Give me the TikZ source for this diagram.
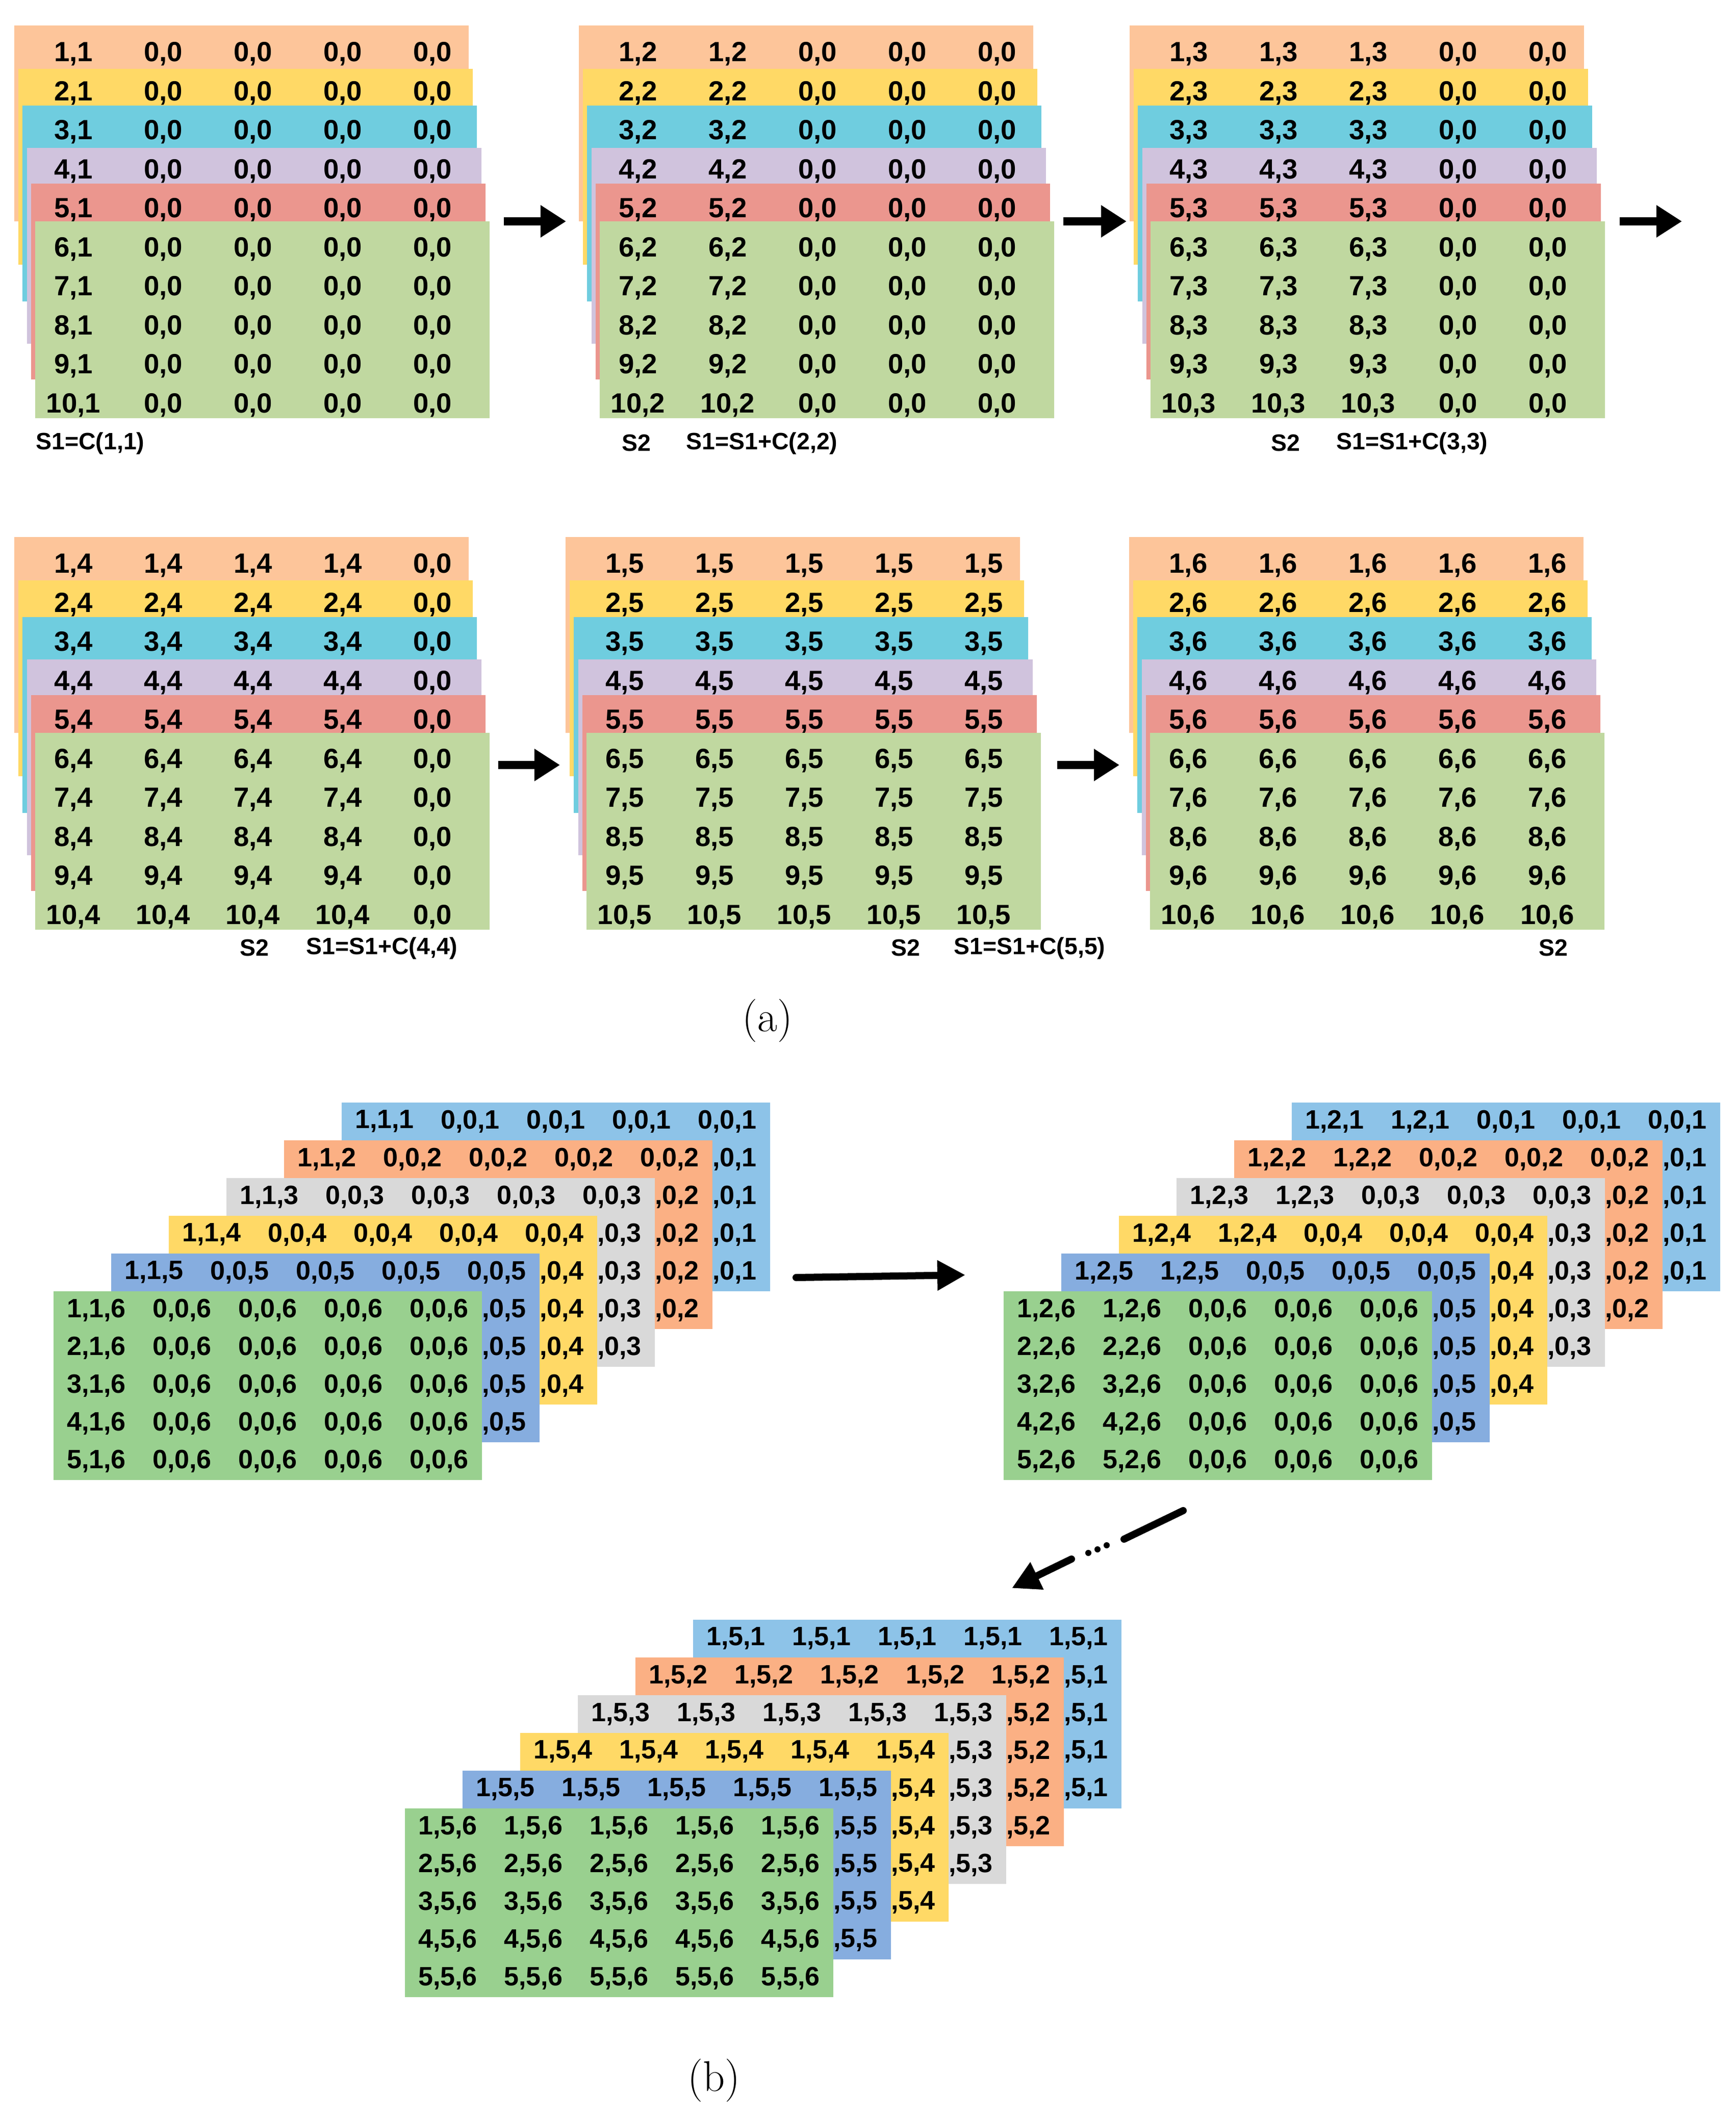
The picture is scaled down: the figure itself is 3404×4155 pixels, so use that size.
\documentclass[tikz,border=0pt]{standalone}
\usepackage{fontspec}
\newfontfamily\cellfont{Liberation Sans}
\usetikzlibrary{arrows.meta}
\definecolor{A1}{HTML}{FDC59A}
\definecolor{A2}{HTML}{FFD966}
\definecolor{A3}{HTML}{6FCDDF}
\definecolor{A4}{HTML}{D0C3DD}
\definecolor{A5}{HTML}{EB968E}
\definecolor{A6}{HTML}{C0D8A0}
\definecolor{B1}{HTML}{8DC3E8}
\definecolor{B2}{HTML}{FBB084}
\definecolor{B3}{HTML}{D9D9D9}
\definecolor{B4}{HTML}{FFD966}
\definecolor{B5}{HTML}{86ADDF}
\definecolor{B6}{HTML}{99D08F}
\tikzset{
 acell/.style={font=\cellfont\bfseries\fontsize{15.5}{16}\selectfont, inner sep=0pt, anchor=center},
 bcell/.style={font=\cellfont\bfseries\fontsize{14.8}{16}\selectfont, inner sep=0pt, anchor=center},
 lab/.style={font=\cellfont\bfseries\fontsize{13.2}{14}\selectfont, inner sep=0pt, anchor=center},
 captext/.style={font=\fontsize{24}{26}\selectfont, inner sep=0pt},
 bigarrow/.style={line width=0.16cm, -{Triangle[length=0.5cm,width=0.6cm]}},
 barrow/.style={line width=0.14cm, line cap=round, -{Triangle[length=0.55cm,width=0.56cm]}},
}
\newcommand\astack[4]{%
 \foreach \k/\o/\col in {0/0/A1,1/85/A2,2/157/A3,3/240/A4,4/310/A5}{
   \fill[\col] ({#1+8.2*\k},{#2+\o}) rectangle ++(891,384);
   \pgfmathtruncatemacro\rr{\k+1}
   \foreach \c in {1,...,5}{
     \node[acell] (#4-\rr-\c) at ({#1+116+176*(\c-1)},{#2+56+76.5*\k}) {\ifnum\c>#3 0,0\else\rr,#3\fi};
   }
 }
 \fill[A6] ({#1+41},{#2+384}) rectangle ++(891,386);
 \foreach \k in {5,...,9}{
   \pgfmathtruncatemacro\rr{\k+1}
   \foreach \c in {1,...,5}{
     \node[acell] (#4-\rr-\c) at ({#1+116+176*(\c-1)},{#2+56+76.5*\k}) {\ifnum\c>#3 0,0\else\rr,#3\fi};
   }
 }
}
\newcommand\bstack[4]{%
 \foreach \k/\col in {0/B1,1/B2,2/B3,3/B4,4/B5,5/B6}{
  \fill[\col] ({#1-113*\k},{#2+74*\k}) rectangle ++(840,370);
  \pgfmathtruncatemacro\kk{\k+1}
  \foreach \rw in {1,...,5}{\foreach \c in {1,...,5}{
     \node[bcell] (#4-\kk-\rw-\c) at ({#1-113*\k+84+168*(\c-1)},{#2+74*\k+37+74*(\rw-1)}) {\ifnum\c>#3 0,0,\kk\else\rw,#3,\kk\fi};
  }}
 }
}
\begin{document}
\begin{tikzpicture}[x=0.01cm,y=-0.01cm]
\useasboundingbox (0,0) rectangle (3404,4155);
% (a) row 1
\astack{28}{50}{1}{s1}
\astack{1135}{50}{2}{s2}
\astack{2215}{50}{3}{s3}
% (a) row 2
\astack{28}{1053}{4}{s4}
\astack{1109}{1053}{5}{s5}
\astack{2214}{1053}{6}{s6}
% arrows (a)
\coordinate (a1s) at (988,434); \coordinate (a1e) at (1110,434);
\coordinate (a2s) at (2085,434); \coordinate (a2e) at (2209,434);
\coordinate (a3s) at (3176,434); \coordinate (a3e) at (3298,434);
\coordinate (a4s) at (977,1500); \coordinate (a4e) at (1098,1500);
\coordinate (a5s) at (2073,1500); \coordinate (a5e) at (2195,1500);
\draw[bigarrow] (a1s) -- (a1e);
\draw[bigarrow] (a2s) -- (a2e);
\draw[bigarrow] (a3s) -- (a3e);
\draw[bigarrow] (a4s) -- (a4e);
\draw[bigarrow] (a5s) -- (a5e);
% labels (a)
\node[lab] (l1) at (177,869) {S1=C(1,1)};
\node[lab] (l2) at (1248,869) {S2};
\node[lab] (l3) at (1494,869) {S1=S1+C(2,2)};
\node[lab] (l4) at (2521,869) {S2};
\node[lab] (l5) at (2769,869) {S1=S1+C(3,3)};
\node[lab] (l6) at (499,1859) {S2};
\node[lab] (l7) at (749,1859) {S1=S1+C(4,4)};
\node[lab] (l8) at (1776,1859) {S2};
\node[lab] (l9) at (2019,1859) {S1=S1+C(5,5)};
\node[lab] (l10) at (3046,1859) {S2};
\node[captext] (capa) at (1505,2001) {(a)};
% (b)
\bstack{670}{2162}{1}{t1}
\bstack{2533}{2162}{2}{t2}
\bstack{1359}{3176}{5}{t3}
\coordinate (b1s) at (1561,2505); \coordinate (b1e) at (1893,2500);
\draw[barrow] (b1s) -- (b1e);
\coordinate (d1) at (2320,2962); \coordinate (d2) at (2204,3018);
\coordinate (d3) at (2101,3057); \coordinate (d4) at (1984,3114);
\draw[line width=0.14cm, line cap=round] (d1) -- (d2);
\draw[barrow] (d3) -- (d4);
\coordinate (p1) at (2170,3030); \coordinate (p2) at (2152,3038); \coordinate (p3) at (2134,3045);
\fill (p1) circle (6); \fill (p2) circle (6); \fill (p3) circle (6);
\node[captext] (capb) at (1400,4079) {(b)};
\end{tikzpicture}
\end{document}
